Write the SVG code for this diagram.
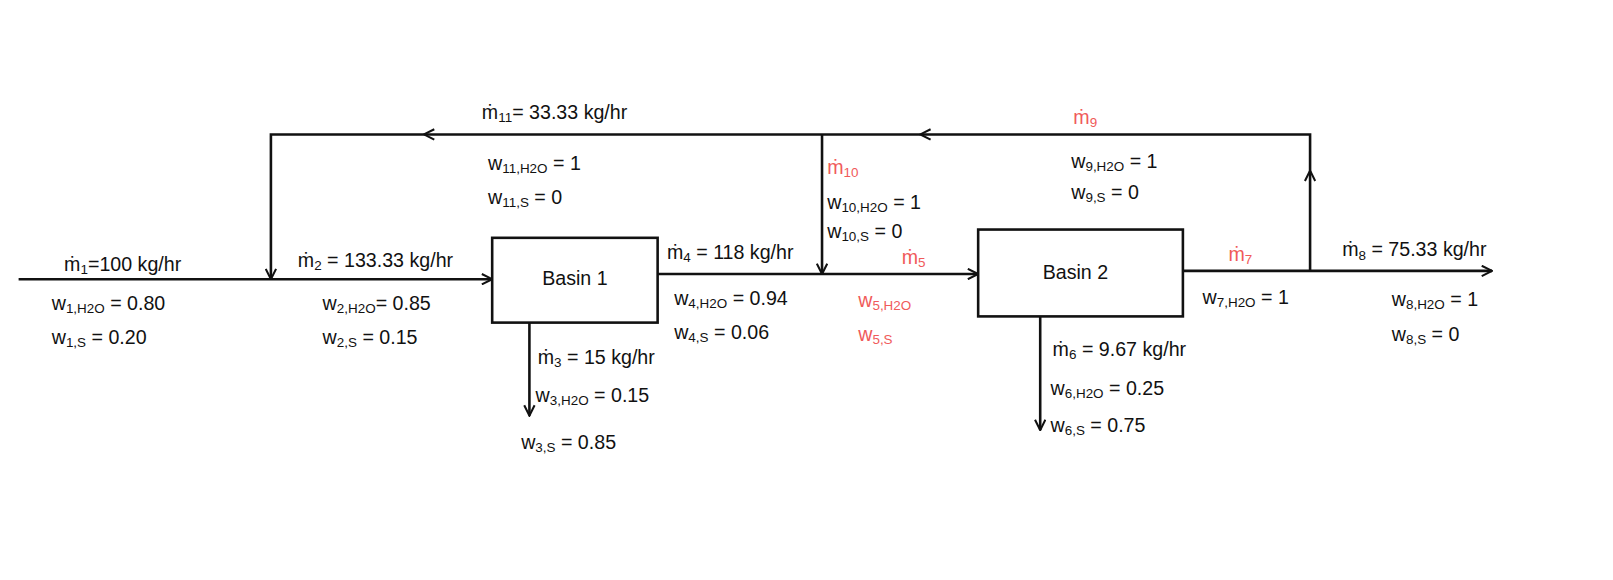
<svg xmlns="http://www.w3.org/2000/svg" width="1613" height="580" viewBox="0 0 1613 580">
<defs>
<style>
text{font-family:"Liberation Sans",Arial,sans-serif;font-size:19px;fill:#111}
.r{fill:#f05a5a}
.s{font-size:13px}
.ln{stroke:#111;stroke-width:2.5;fill:none}
.box{stroke:#111;stroke-width:2.5;fill:#fff}
</style>
<marker id="a" viewBox="0 0 12 12" refX="11" refY="6" markerWidth="12" markerHeight="12" markerUnits="userSpaceOnUse" orient="auto"><path d="M1,1 L11,6 L1,11" fill="none" stroke="#111" stroke-width="2"/></marker>
</defs>
<rect width="1613" height="580" fill="#fff"/>
<g transform="scale(1.034)">
<g id="connectors">
<path class="ln" d="M18,270 H476" marker-end="url(#a)"/>
<path class="ln" d="M636,265 H946" marker-end="url(#a)"/>
<path class="ln" d="M1144,262 H1443" marker-end="url(#a)"/>
<path class="ln" d="M1267,262 V165" marker-end="url(#a)"/>
<path class="ln" d="M1267,165 V130 H890" marker-end="url(#a)"/>
<path class="ln" d="M890,130 H410" marker-end="url(#a)"/>
<path class="ln" d="M410,130 H262 V270" marker-end="url(#a)"/>
<path class="ln" d="M795,130 V265" marker-end="url(#a)"/>
<path class="ln" d="M512,312 V402" marker-end="url(#a)"/>
<path class="ln" d="M1006,306 V416" marker-end="url(#a)"/>
</g>
<g id="basin1"><rect class="box" x="476" y="230" width="160" height="82"/><text x="556" y="276" text-anchor="middle" font-size="22">Basin 1</text></g>
<g id="basin2"><rect class="box" x="946" y="222" width="198" height="84"/><text x="1040" y="270" text-anchor="middle" font-size="22">Basin 2</text></g>
<g id="labels">
<text x="62" y="262">ṁ<tspan class="s" dy="3">1</tspan><tspan dy="-3">=100  kg/hr</tspan></text>
<text x="50" y="300">w<tspan class="s" dy="3">1,H2O</tspan><tspan dy="-3"> = 0.80</tspan></text>
<text x="50" y="333">w<tspan class="s" dy="3">1,S</tspan><tspan dy="-3"> = 0.20</tspan></text>
<text x="288" y="258">ṁ<tspan class="s" dy="3">2</tspan><tspan dy="-3"> = 133.33 kg/hr</tspan></text>
<text x="312" y="300">w<tspan class="s" dy="3">2,H2O</tspan><tspan dy="-3">= 0.85</tspan></text>
<text x="312" y="333">w<tspan class="s" dy="3">2,S</tspan><tspan dy="-3"> = 0.15</tspan></text>
<text x="466" y="115" font-size="22">ṁ<tspan class="s" dy="3">11</tspan><tspan dy="-3">= 33.33 kg/hr</tspan></text>
<text x="472" y="164">w<tspan class="s" dy="3">11,H2O</tspan><tspan dy="-3"> = 1</tspan></text>
<text x="472" y="197">w<tspan class="s" dy="3">11,S</tspan><tspan dy="-3"> = 0</tspan></text>
<text x="645" y="250">ṁ<tspan class="s" dy="3">4</tspan><tspan dy="-3"> = 118 kg/hr</tspan></text>
<text x="652" y="295">w<tspan class="s" dy="3">4,H2O</tspan><tspan dy="-3"> = 0.94</tspan></text>
<text x="652" y="328">w<tspan class="s" dy="3">4,S</tspan><tspan dy="-3"> = 0.06</tspan></text>
<text x="520" y="352">ṁ<tspan class="s" dy="3">3</tspan><tspan dy="-3"> = 15 kg/hr</tspan></text>
<text x="518" y="389">w<tspan class="s" dy="3">3,H2O</tspan><tspan dy="-3"> = 0.15</tspan></text>
<text x="504" y="434">w<tspan class="s" dy="3">3,S</tspan><tspan dy="-3"> = 0.85</tspan></text>
<text class="r" x="800" y="168">ṁ<tspan class="s r" dy="3">10</tspan></text>
<text x="800" y="202">w<tspan class="s" dy="3">10,H2O</tspan><tspan dy="-3"> = 1</tspan></text>
<text x="800" y="230">w<tspan class="s" dy="3">10,S</tspan><tspan dy="-3"> = 0</tspan></text>
<text class="r" x="872" y="255">ṁ<tspan class="s r" dy="3">5</tspan></text>
<text class="r" x="830" y="297">w<tspan class="s r" dy="3">5,H2O</tspan></text>
<text class="r" x="830" y="330">w<tspan class="s r" dy="3">5,S</tspan></text>
<text class="r" x="1038" y="120">ṁ<tspan class="s r" dy="3">9</tspan></text>
<text x="1036" y="162">w<tspan class="s" dy="3">9,H2O</tspan><tspan dy="-3"> = 1</tspan></text>
<text x="1036" y="192">w<tspan class="s" dy="3">9,S</tspan><tspan dy="-3"> = 0</tspan></text>
<text class="r" x="1188" y="252">ṁ<tspan class="s r" dy="3">7</tspan></text>
<text x="1163" y="294">w<tspan class="s" dy="3">7,H2O</tspan><tspan dy="-3"> = 1</tspan></text>
<text x="1298" y="248" font-size="21">ṁ<tspan class="s" dy="3">8</tspan><tspan dy="-3"> = 75.33 kg/hr</tspan></text>
<text x="1346" y="296">w<tspan class="s" dy="3">8,H2O</tspan><tspan dy="-3"> = 1</tspan></text>
<text x="1346" y="330">w<tspan class="s" dy="3">8,S</tspan><tspan dy="-3"> = 0</tspan></text>
<text x="1018" y="344">ṁ<tspan class="s" dy="3">6</tspan><tspan dy="-3"> = 9.67 kg/hr</tspan></text>
<text x="1016" y="382">w<tspan class="s" dy="3">6,H2O</tspan><tspan dy="-3"> = 0.25</tspan></text>
<text x="1016" y="418">w<tspan class="s" dy="3">6,S</tspan><tspan dy="-3"> = 0.75</tspan></text>
</g>
</g>
</svg>
